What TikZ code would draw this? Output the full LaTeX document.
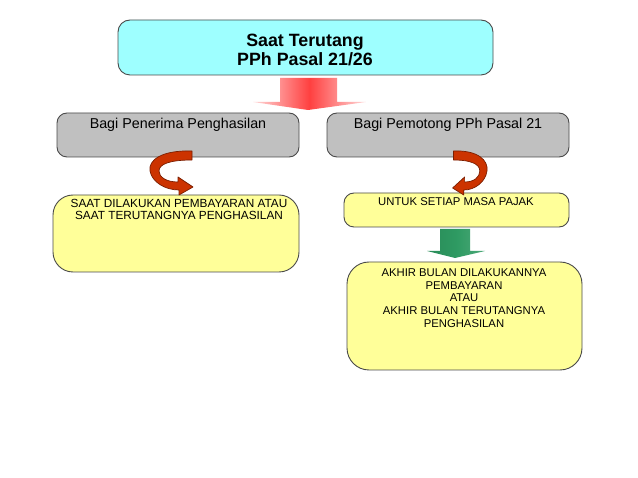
\documentclass[tikz,border=0pt]{standalone}
\usepackage{fontspec}
\setmainfont{Liberation Sans}
\usetikzlibrary{calc}
\definecolor{boxcyan}{HTML}{9EFFFF}
\definecolor{boxgray}{HTML}{C0C0C0}
\definecolor{boxyellow}{HTML}{FFFF99}
\definecolor{edge}{HTML}{4A4A4A}
\definecolor{curvered}{HTML}{CC3300}
\definecolor{curveedge}{HTML}{7A1E00}
\definecolor{arrgreen}{HTML}{2E9A62}
\tikzset{
  panel/.style={draw=edge, line width=0.9pt, inner sep=0pt},
  txt/.style={inner sep=0pt, align=center, anchor=center},
  curvearrow/.style={fill=curvered, draw=curveedge, line width=0.7pt, line join=round},
}
\begin{document}
\begin{tikzpicture}[x=1pt,y=-1pt]
\useasboundingbox (0,0) rectangle (638,478);
\fill[white] (0,0) rectangle (638,478);

% boxes
\node[panel, fill=boxcyan, rounded corners=12pt, minimum width=375pt, minimum height=55pt] (top) at (305.5,47.5) {};
\node[panel, fill=boxgray, rounded corners=10pt, minimum width=242pt, minimum height=44pt] (gl) at (178,135) {};
\node[panel, fill=boxgray, rounded corners=10pt, minimum width=242pt, minimum height=44pt] (gr) at (448,135) {};
\node[panel, fill=boxyellow, rounded corners=20pt, minimum width=246pt, minimum height=77pt] (yl) at (176,233.5) {};
\node[panel, fill=boxyellow, rounded corners=10pt, minimum width=225pt, minimum height=34pt] (ys) at (456.5,210) {};
\node[panel, fill=boxyellow, rounded corners=22pt, minimum width=235pt, minimum height=108pt] (yb) at (464.5,316) {};

% texts
\node[txt, font=\fontsize{17.8}{19.5}\selectfont\bfseries] (ttop) at (305,50) {Saat Terutang\\PPh Pasal 21/26};
\node[txt, font=\fontsize{14.3}{16}\selectfont] (tgl) at (178,125) {Bagi Penerima Penghasilan};
\node[txt, font=\fontsize{14.3}{16}\selectfont] (tgr) at (448,125) {Bagi Pemotong PPh Pasal 21};
\node[txt, font=\fontsize{11.8}{12}\selectfont] (tyl) at (179,209) {SAAT DILAKUKAN PEMBAYARAN ATAU\\SAAT TERUTANGNYA PENGHASILAN};
\node[txt, font=\fontsize{11.3}{12.5}\selectfont] (tys) at (456,202) {UNTUK SETIAP MASA PAJAK};
\node[txt, font=\fontsize{11.3}{12.6}\selectfont] (tyb) at (464,298) {AKHIR BULAN DILAKUKANNYA\\PEMBAYARAN\\ATAU\\AKHIR BULAN TERUTANGNYA\\PENGHASILAN};

% red block arrow
\shade[left color=red!15, right color=red!15, middle color=red!75, shading angle=90]
  (280,78) -- (337,78) -- (337,102) -- (366,102) -- (308,110) -- (253,102) -- (280,102) -- cycle;

% green block arrow
\shade[left color=arrgreen!90!black, right color=arrgreen!85, middle color=arrgreen]
  (440,229) -- (470,229) -- (470,251) -- (485,251) -- (455,258) -- (427,251) -- (440,251) -- cycle;

% left curved arrow
\path[curvearrow]
  (192,151) .. controls (162,150) and (148,160) .. (150,171)
  .. controls (152,182) and (165,190) .. (179,190)
  -- (179,195) -- (193,187) -- (178,177) -- (178,182)
  .. controls (166,182) and (159,177) .. (159,171)
  .. controls (159,164) and (170,160) .. (192,160) -- cycle;

% right curved arrow (mirrored)
\begin{scope}[xshift=607pt, xscale=-0.8]
\path[curvearrow]
  (192,151) .. controls (162,150) and (148,160) .. (150,171)
  .. controls (152,182) and (165,190) .. (179,190)
  -- (179,195) -- (193,188) -- (178,177) -- (178,182)
  .. controls (166,182) and (159,177) .. (159,171)
  .. controls (159,164) and (170,160) .. (192,160) -- cycle;
\end{scope}
\end{tikzpicture}
\end{document}
